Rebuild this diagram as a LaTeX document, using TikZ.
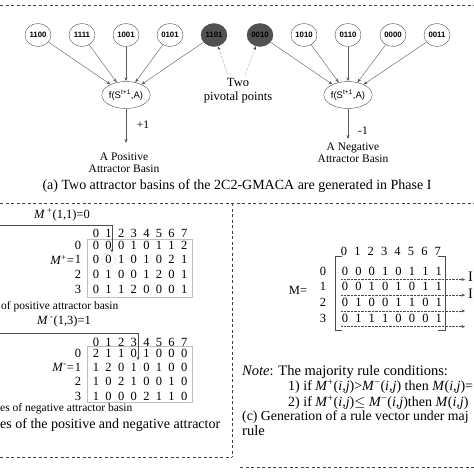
\documentclass[tikz,border=0pt]{standalone}
\usepackage{fontspec}
\setmainfont{Liberation Serif}
\newfontfamily\labelfont{Liberation Sans}
\usetikzlibrary{
    arrows.meta,
    shapes.geometric,
    calc,
    positioning
}
\tikzset{
    statenode/.style={ellipse, draw=black!70, minimum width=26pt, minimum height=23pt,
        inner sep=0pt, font=\labelfont\bfseries\fontsize{7.8}{8}\selectfont},
    pivotnode/.style={statenode, fill=black!68},
    funcnode/.style={ellipse, draw=black!70, minimum width=48pt, minimum height=27pt,
        inner sep=0pt, font=\labelfont\fontsize{9.5}{10}\selectfont},
    link/.style={draw=black!65, -{Stealth[length=4pt,width=3pt]}},
    pointer/.style={draw=black!70, densely dotted, -{Stealth[length=4pt,width=3pt,open]}},
    divider/.style={draw=black!75, dash pattern=on 3pt off 2.5pt},
    entry/.style={inner sep=0pt, font=\fontsize{12.5}{13}\selectfont},
    bracket/.style={draw=black!70, thick, -{Stealth[length=3.5pt,width=3pt]}},
    rowarrow/.style={draw=black!70, densely dotted, -{Stealth[length=3.5pt,width=3pt]}},
    small/.style={inner sep=0pt, font=\fontsize{11.5}{12}\selectfont},
    big/.style={inner sep=0pt, font=\fontsize{14}{15}\selectfont},
    notetext/.style={inner sep=0pt, anchor=west, font=\fontsize{14.5}{15}\selectfont}
}

\begin{document}
\begin{tikzpicture}[x=1pt, y=-1pt]
    \useasboundingbox (0, 0) rectangle (474, 474);
    % frame of the three parts
    \draw[divider] (0, 5) -- (474, 5);
    \draw[divider] (0, 203) -- (474, 203);
    \draw[divider] (232, 203) -- (232, 457);
    \draw[divider] (0, 457) -- (232, 457);
    \draw[divider] (240, 467) -- (474, 467);

    % (a) the two attractor basins
    \node[statenode] (b1100) at (38, 35) {1100};
    \node[statenode] (b1111) at (82, 35) {1111};
    \node[statenode] (b1001) at (126, 35) {1001};
    \node[statenode] (b0101) at (170, 35) {0101};
    \node[pivotnode] (b1101) at (214, 35) {1101};
    \node[pivotnode] (b0010) at (260, 35) {0010};
    \node[statenode] (b1010) at (304, 35) {1010};
    \node[statenode] (b0110) at (348, 35) {0110};
    \node[statenode] (b0000) at (393, 35) {0000};
    \node[statenode] (b0011) at (437, 35) {0011};
    \node[funcnode] (fpos) at (126, 95) {f(S\textsuperscript{t+1},A)};
    \node[funcnode] (fneg) at (348, 95) {f(S\textsuperscript{t+1},A)};
    \foreach \n in {b1100, b1111, b1001, b0101, b1101}
        \draw[link] (\n) -- (fpos);
    \foreach \n in {b0010, b1010, b0110, b0000, b0011}
        \draw[link] (\n) -- (fneg);
    \coordinate (posend) at (126, 143);
    \coordinate (negend) at (348, 139);
    \draw[link] (fpos) -- (posend);
    \draw[link] (fneg) -- (negend);
    \node[small] (plus) at (143, 125) {+1};
    \node[small] (minus) at (363, 131) {-1};
    \node[small, align=center] (posbasin) at (124, 163) {A Positive\\Attractor Basin};
    \node[small, align=center] (negbasin) at (353, 153) {A Negative\\Attractor Basin};
    \node[big, align=center, font=\fontsize{12.5}{14}\selectfont] (pivtext) at (238, 91) {Two\\pivotal points};
    \coordinate (pl) at (228, 75);
    \coordinate (pr) at (245, 75);
    \draw[pointer] (pl) -- (b1101);
    \draw[pointer] (pr) -- (b0010);
    \node[big] (capa) at (237, 186) {(a) Two attractor basins of the 2C2-GMACA are generated in Phase I};

    % (b) the matrices M+ and M-
    \node[entry] (mpt) at (62, 215) {\textit{M}\,\textsuperscript{+}(1,1)=0};
    \draw[black!25] (87, 239) rectangle (192, 297);
    \foreach \c in {0,...,7}
        \node[entry] (ph\c) at ({96+12.6*\c}, 233) {\c};
    \foreach \row [count=\r from 0] in {{0,0,0,1,0,1,1,2},{0,0,1,0,1,0,2,1},{0,1,0,0,1,2,0,1},{0,1,1,2,0,0,0,1}} {
        \node[entry] (pr\r) at (78, {245+14.7*\r}) {\r};
        \foreach \v [count=\c from 0] in \row
            \node[entry] (p\r\c) at ({96+12.6*\c}, {245+14.7*\r}) {\v};
    }
    \node[entry, anchor=east] (mplus) at (74, 260) {\textit{M}\textsuperscript{+}=};
    \node[circle, draw=black!15, minimum size=14pt] (hp) at (p11) {};
    \coordinate (bp0) at (0, 225);
    \coordinate (bp1) at (112, 225);
    \draw[bracket] (bp0) -- (bp1) -- (bp1 |- hp.north);
    \node[small, anchor=west] (ptext) at (1, 307) {of positive attractor basin};

    \node[entry] (mmt) at (64, 321) {\textit{M}\,\textsuperscript{-}(1,3)=1};
    \draw[black!25] (87, 346) rectangle (192, 402);
    \foreach \c in {0,...,7}
        \node[entry] (mh\c) at ({96+12.6*\c}, 342) {\c};
    \foreach \row [count=\r from 0] in {{2,1,1,0,1,0,0,0},{1,2,0,1,0,1,0,0},{1,0,2,1,0,0,1,0},{1,0,0,0,2,1,1,0}} {
        \node[entry] (mr\r) at (78, {353+14.4*\r}) {\r};
        \foreach \v [count=\c from 0] in \row
            \node[entry] (m\r\c) at ({96+12.6*\c}, {353+14.4*\r}) {\v};
    }
    \node[entry, anchor=east] (mminus) at (74, 367) {\textit{M}\textsuperscript{-}=};
    \node[circle, draw=black!15, minimum size=14pt] (hm) at (m13) {};
    \coordinate (bm0) at (0, 333);
    \coordinate (bm1) at (138, 333);
    \draw[bracket] (bm0) -- (bm1) -- (bm1 |- hm.north);
    \node[small, anchor=west] (mtext) at (0, 409) {es of negative attractor basin};
    \node[big, anchor=west] (capb) at (0, 425) {es of the positive and negative attractor};

    % (c) the rule vector
    \node[entry] (meq) at (298, 290) {M=};
    \foreach \c in {0,...,7}
        \node[entry] (rh\c) at ({344+13.4*\c}, 251) {\c};
    \foreach \row [count=\r from 0] in {{0,0,0,1,0,1,1,1},{0,0,1,0,1,0,1,1},{0,1,0,0,1,1,0,1},{0,1,1,1,0,0,0,1}} {
        \node[entry] (rr\r) at (323, {271+15.7*\r}) {\r};
        \foreach \v [count=\c from 0] in \row
            \node[entry] (r\r\c) at ({345+13.4*\c}, {271+15.7*\r}) {\v};
        \coordinate (ds\r) at (341, {279.5+15.7*\r});
        \coordinate (de\r) at (465, {279.5+15.7*\r});
        \draw[rowarrow] (ds\r) -- (de\r);
    }
    \draw[black!70] (342, 256) -- (335, 256) -- (335, 330) -- (342, 330);
    \draw[black!70] (438, 256) -- (445, 256) -- (445, 330) -- (438, 330);
    \node[notetext] (cut0) at (468, 277) {I};
    \node[notetext] (cut1) at (468, 294) {I};
    \node[notetext] (note) at (242, 372) {\textit{Note}: The majority rule conditions:};
    \node[notetext, font=\fontsize{14}{14}\selectfont] (cond1) at (288, 386.5) {1) if \textit{M}\textsuperscript{+}(\textit{i,j})>\textit{M}\textsuperscript{−}(\textit{i,j}) then \textit{M}(\textit{i,j})=};
    \node[notetext, font=\fontsize{14}{14}\selectfont] (cond2) at (288, 402.5) {2) if \textit{M}\textsuperscript{+}(\textit{i,j})$\leq$ \textit{M}\textsuperscript{−}(\textit{i,j})then \textit{M}(\textit{i,j})};
    \node[notetext, font=\fontsize{13.8}{14}\selectfont] (capc) at (242, 417.5) {(c) Generation of a rule vector under maj};
    \node[notetext] (capc2) at (242, 431) {rule};
\end{tikzpicture}
\end{document}
